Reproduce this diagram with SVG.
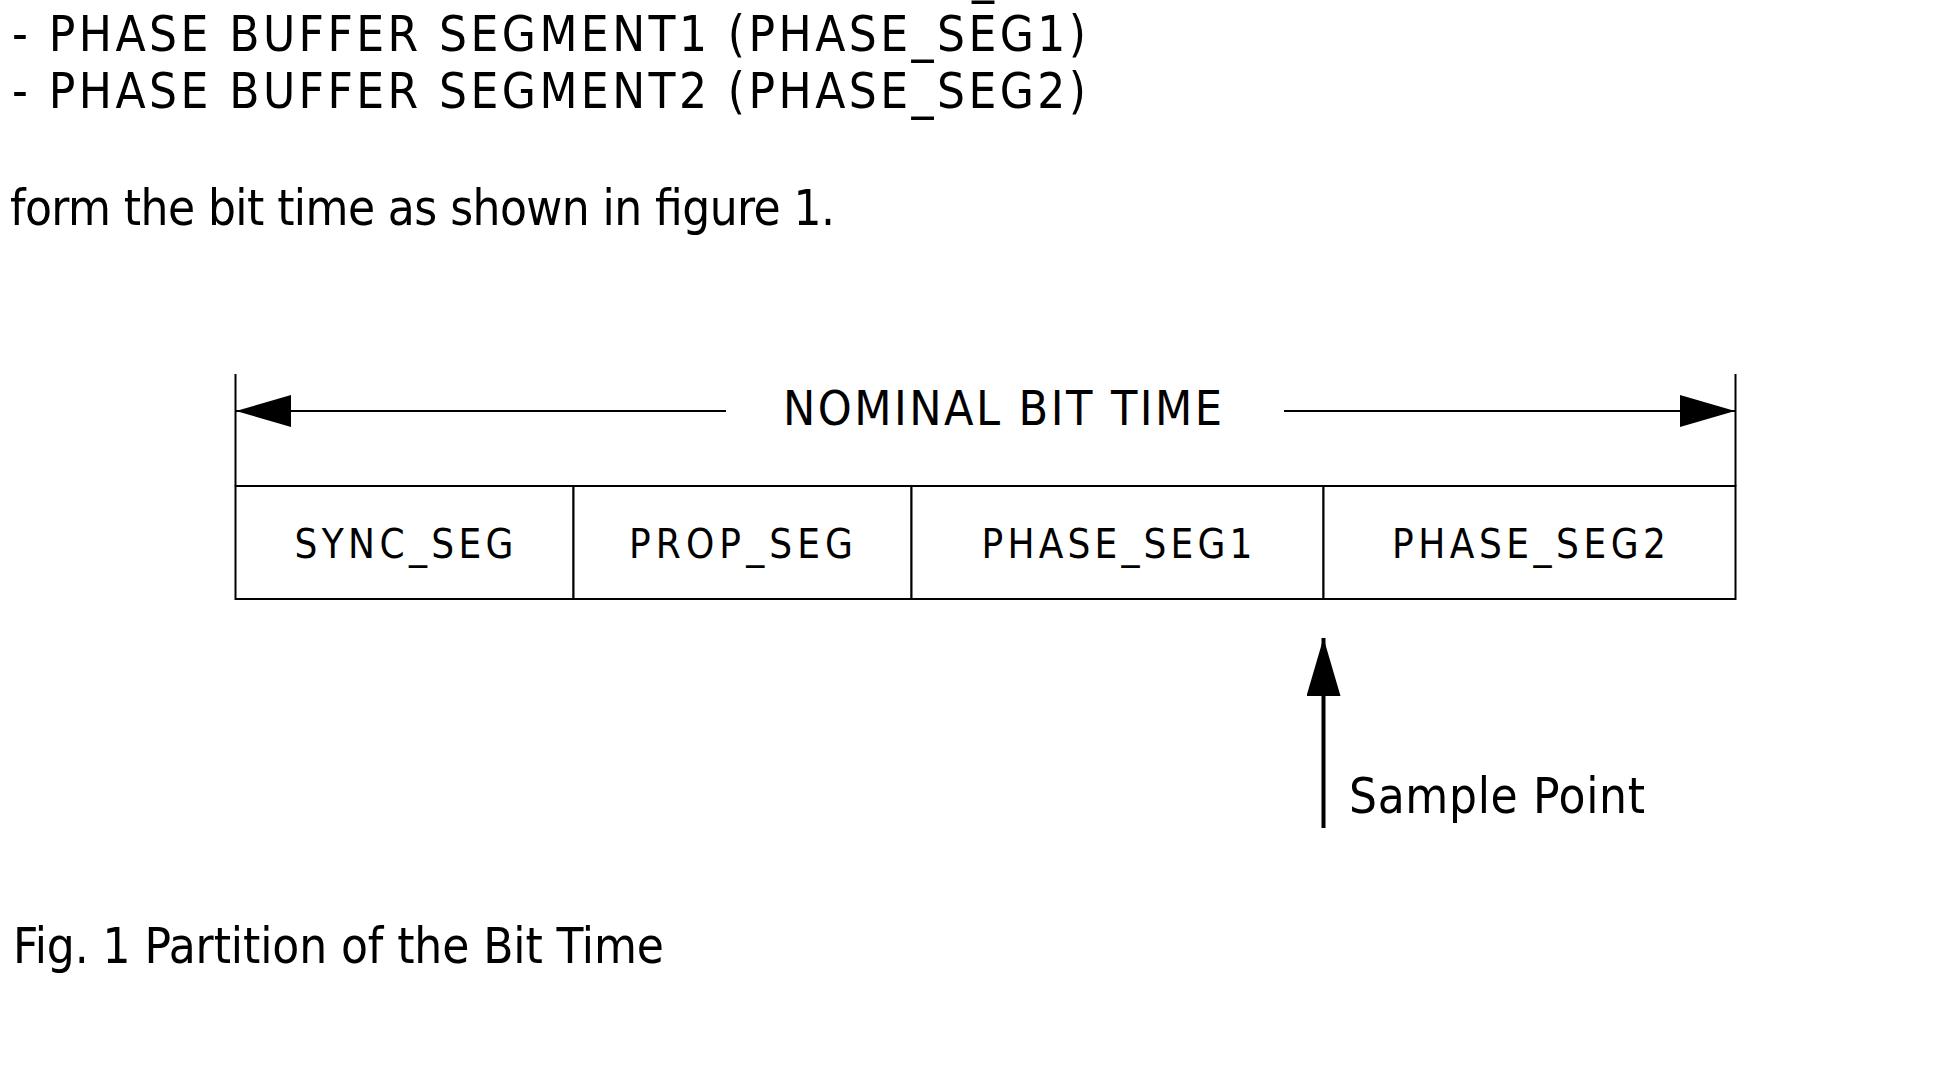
<svg xmlns="http://www.w3.org/2000/svg" width="1954" height="1086" viewBox="0 0 1954 1086">
<style>
  text { font-family: "DejaVu Sans Condensed", "DejaVu Sans", sans-serif; fill: #000; font-stretch: condensed; }
  .body { font-size: 49px; }
  .title { font-size: 48px; }
  .seg { font-size: 40px; text-anchor: middle; }
  .ln { stroke: #000; stroke-width: 2; fill: none; }
  .cell { fill: #fff; stroke: #000; stroke-width: 2; }
</style>
<defs>
  <marker id="ah" viewBox="0 0 55 32" refX="55" refY="16" markerWidth="55" markerHeight="32" markerUnits="userSpaceOnUse" orient="auto">
    <path d="M0,0 L55,16 L0,32 Z" fill="#000"/>
  </marker>
  <marker id="ahs" viewBox="0 0 58 34" refX="58" refY="17" markerWidth="58" markerHeight="34" markerUnits="userSpaceOnUse" orient="auto">
    <path d="M0,0 L58,17 L0,34 Z" fill="#000"/>
  </marker>
</defs>
<rect width="1954" height="1086" fill="#fff"/>

<g id="intro-text">
  <text class="body" x="972" y="-8.5">_</text>
  <text class="body" x="12" y="51" textLength="1074" lengthAdjust="spacing">- PHASE BUFFER SEGMENT1 (PHASE_SEG1)</text>
  <text class="body" x="12" y="108" textLength="1074" lengthAdjust="spacing">- PHASE BUFFER SEGMENT2 (PHASE_SEG2)</text>
  <text class="body" x="10" y="225" textLength="825" lengthAdjust="spacing">form the bit time as shown in figure 1.</text>
</g>

<g id="connectors">
  <line class="ln" x1="235.5" y1="374" x2="235.5" y2="486"/>
  <line class="ln" x1="1735.5" y1="374" x2="1735.5" y2="486"/>
  <line class="ln" x1="726" y1="411" x2="236" y2="411" marker-end="url(#ah)"/>
  <line class="ln" x1="1284" y1="411" x2="1735" y2="411" marker-end="url(#ah)"/>
  <line x1="1323.5" y1="828" x2="1323.5" y2="638" stroke="#000" stroke-width="4" marker-end="url(#ahs)"/>
</g>

<g id="nominal-bit-time">
  <text class="title" x="783" y="425" textLength="439" lengthAdjust="spacing">NOMINAL BIT TIME</text>
</g>

<g id="sync-seg">
  <rect class="cell" x="235.5" y="486" width="338" height="113"/>
  <text class="seg" x="404" y="558" textLength="219" lengthAdjust="spacing">SYNC_SEG</text>
</g>
<g id="prop-seg">
  <rect class="cell" x="573.5" y="486" width="338" height="113"/>
  <text class="seg" x="741" y="558" textLength="224" lengthAdjust="spacing">PROP_SEG</text>
</g>
<g id="phase-seg1">
  <rect class="cell" x="911.5" y="486" width="412" height="113"/>
  <text class="seg" x="1117" y="558" textLength="271" lengthAdjust="spacing">PHASE_SEG1</text>
</g>
<g id="phase-seg2">
  <rect class="cell" x="1323.5" y="486" width="412" height="113"/>
  <text class="seg" x="1529" y="558" textLength="274" lengthAdjust="spacing">PHASE_SEG2</text>
</g>

<g id="sample-point">
  <text class="body" x="1349" y="813" textLength="296" lengthAdjust="spacing">Sample Point</text>
</g>

<g id="caption">
  <text class="body" x="13" y="963" textLength="651" lengthAdjust="spacing">Fig. 1 Partition of the Bit Time</text>
</g>
</svg>
